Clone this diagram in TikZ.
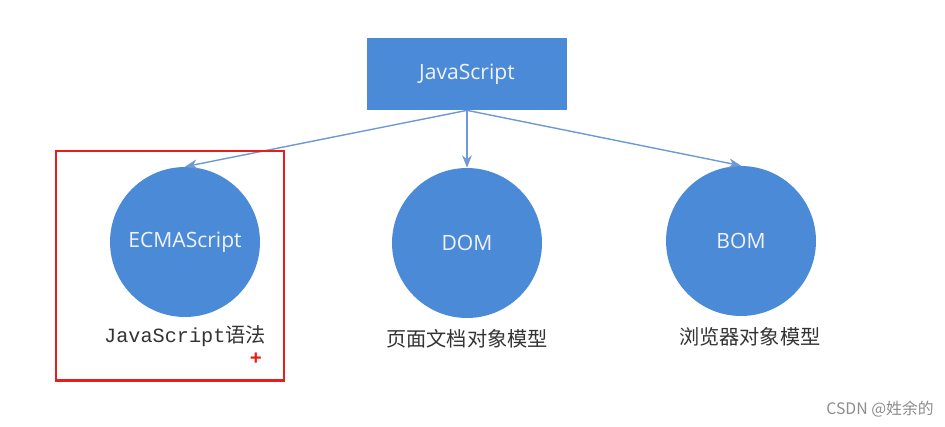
\documentclass[tikz,border=0pt]{standalone}
\usepackage{fontspec}
\setmainfont{Open Sans}
\setmonofont{Liberation Mono}
\newfontfamily\cjk{Noto Sans CJK SC}
\usepackage{tikz}
\usetikzlibrary{arrows.meta, positioning}
\definecolor{jsblue}{RGB}{74,138,214}
\definecolor{linkblue}{RGB}{110,152,214}
\definecolor{markred}{RGB}{232,30,28}
\tikzset{
    topbox/.style={rectangle, fill=jsblue, minimum width=4cm, minimum height=1.44cm, text=white!95!blue, font=\fontsize{12}{14}\selectfont},
    part/.style={circle, fill=jsblue, minimum size=3cm, inner sep=0pt, text=white!95!blue, font=\fontsize{12}{14}\selectfont},
    caption/.style={text=black!80, font=\fontsize{11.5}{14}\selectfont\cjk},
    link/.style={-{Stealth[length=7pt, width=5.5pt]}, line width=0.8pt, linkblue}
}

\begin{document}
\begin{tikzpicture}[x=0.02cm, y=-0.02cm]
    \useasboundingbox (0,0) rectangle (945,426);
    \node[topbox] (js) at (467,74) {JavaScript};
    % три части
    \node[part] (ecma) at (185,242) {ECMAScript};
    \node[part] (dom) at (467,243) {DOM};
    \node[part] (bom) at (741,241) {BOM};
    \node[caption, below=1pt of ecma] (ecmalbl) {\ttfamily JavaScript\cjk 语法};
    \node[caption, below=3pt of dom] (domlbl) {页面文档对象模型};
    \node[caption, below=3pt of bom, xshift=5pt] (bomlbl) {浏览器对象模型};
    % связи
    \draw[link] (js.south) -- (ecma.north);
    \draw[link] (js.south) -- (dom.north);
    \draw[link] (js.south) -- (bom.north);
    % выделение
    \draw[markred, line width=1.7pt] (56,151) rectangle (284,380);
    \node[text=markred, font=\bfseries\fontsize{12}{12}\selectfont] (plus) at (256,359) {+};
    \node[text=black!45, font=\fontsize{9}{11}\selectfont\cjk] (mark) at (880,409) {CSDN @姓余的};
\end{tikzpicture}
\end{document}
